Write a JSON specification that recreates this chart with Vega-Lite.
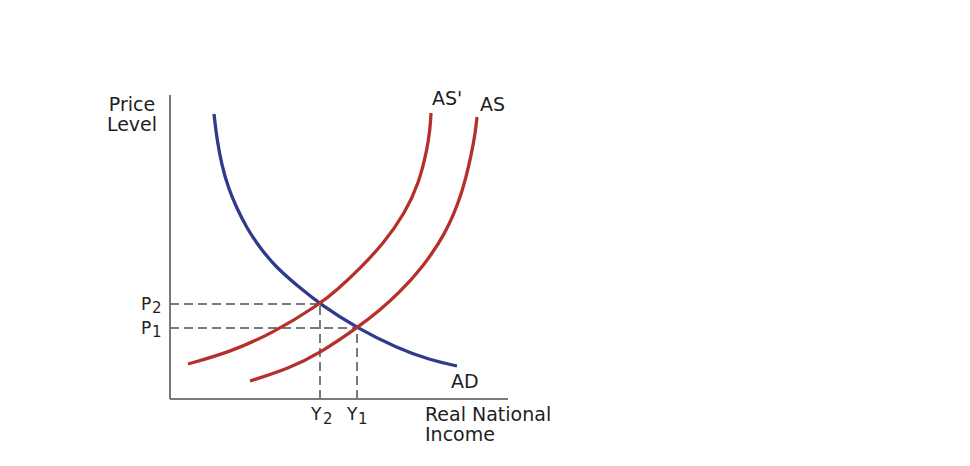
{
  "$schema": "https://vega.github.io/schema/vega-lite/v6.json",
  "autosize": "none",
  "width": 338,
  "height": 304,
  "padding": {"left": 170, "top": 95, "right": 462, "bottom": 67},
  "background": "white",
  "config": {"view": {"stroke": null}},
  "datasets": {
    "curves": [
      {"series": "AD", "x": 44, "y": 285},
      {"series": "AD", "x": 46.7, "y": 261},
      {"series": "AD", "x": 51.7, "y": 234},
      {"series": "AD", "x": 58.3, "y": 211},
      {"series": "AD", "x": 66.7, "y": 191},
      {"series": "AD", "x": 76.7, "y": 171},
      {"series": "AD", "x": 90, "y": 151},
      {"series": "AD", "x": 106.7, "y": 131},
      {"series": "AD", "x": 130, "y": 111},
      {"series": "AD", "x": 150, "y": 95},
      {"series": "AD", "x": 187, "y": 71},
      {"series": "AD", "x": 227, "y": 51},
      {"series": "AD", "x": 260, "y": 39},
      {"series": "AD", "x": 287, "y": 33},
      {"series": "AS'", "x": 18, "y": 35},
      {"series": "AS'", "x": 60, "y": 47},
      {"series": "AS'", "x": 103, "y": 66},
      {"series": "AS'", "x": 150, "y": 95},
      {"series": "AS'", "x": 167, "y": 109},
      {"series": "AS'", "x": 190, "y": 130.5},
      {"series": "AS'", "x": 214, "y": 156},
      {"series": "AS'", "x": 235, "y": 186},
      {"series": "AS'", "x": 249, "y": 216},
      {"series": "AS'", "x": 257, "y": 249},
      {"series": "AS'", "x": 260, "y": 269},
      {"series": "AS'", "x": 261, "y": 286},
      {"series": "AS", "x": 80, "y": 18},
      {"series": "AS", "x": 120, "y": 31},
      {"series": "AS", "x": 150, "y": 46},
      {"series": "AS", "x": 187, "y": 71},
      {"series": "AS", "x": 210, "y": 89},
      {"series": "AS", "x": 229, "y": 106},
      {"series": "AS", "x": 252, "y": 131},
      {"series": "AS", "x": 275, "y": 164},
      {"series": "AS", "x": 292, "y": 204},
      {"series": "AS", "x": 302, "y": 247},
      {"series": "AS", "x": 305.5, "y": 268},
      {"series": "AS", "x": 307, "y": 282}
    ],
    "axes": [
      {"x": 0, "x2": 0, "y": 0, "y2": 304},
      {"x": 0, "x2": 338, "y": 0, "y2": 0}
    ],
    "guides": [
      {"x": 0, "x2": 150, "y": 95, "y2": 95},
      {"x": 150, "x2": 150, "y": 0, "y2": 95},
      {"x": 0, "x2": 187, "y": 71, "y2": 71},
      {"x": 187, "x2": 187, "y": 0, "y2": 71}
    ],
    "bigLabels": [
      {"label": "AS'", "x": 262, "y": 294},
      {"label": "AS", "x": 310, "y": 288},
      {"label": "AD", "x": 281, "y": 11},
      {"label": "Real National", "x": 255, "y": -22},
      {"label": "Income", "x": 255, "y": -42}
    ],
    "yTitle": [
      {"label": "Price", "x": -38, "y": 288},
      {"label": "Level", "x": -38, "y": 268}
    ],
    "mainLetters": [
      {"label": "P", "x": -29, "y": 89},
      {"label": "P", "x": -29, "y": 65},
      {"label": "Y", "x": 141, "y": -21},
      {"label": "Y", "x": 177, "y": -21}
    ],
    "subs": [
      {"label": "2", "x": -18, "y": 86},
      {"label": "1", "x": -18, "y": 62},
      {"label": "2", "x": 153, "y": -25},
      {"label": "1", "x": 188, "y": -25}
    ]
  },
  "layer": [
    {
      "data": {"name": "axes"},
      "mark": {"type": "rule", "stroke": "#7a7a7a", "strokeWidth": 2},
      "encoding": {
        "x": {"field": "x", "type": "quantitative", "scale": {"domain": [0, 338], "nice": false, "zero": false}, "axis": null},
        "x2": {"field": "x2"},
        "y": {"field": "y", "type": "quantitative", "scale": {"domain": [0, 304], "nice": false, "zero": false}, "axis": null},
        "y2": {"field": "y2"}
      }
    },
    {
      "data": {"name": "guides"},
      "mark": {"type": "rule", "stroke": "#7a7a7a", "strokeWidth": 2, "strokeDash": [9, 5]},
      "encoding": {
        "x": {"field": "x", "type": "quantitative"},
        "x2": {"field": "x2"},
        "y": {"field": "y", "type": "quantitative"},
        "y2": {"field": "y2"}
      }
    },
    {
      "data": {"name": "curves"},
      "mark": {"type": "line", "interpolate": "basis", "strokeWidth": 3.3, "strokeCap": "butt"},
      "encoding": {
        "x": {"field": "x", "type": "quantitative"},
        "y": {"field": "y", "type": "quantitative"},
        "color": {"field": "series", "type": "nominal", "scale": {"domain": ["AD", "AS'", "AS"], "range": ["#2f3a8c", "#b5302b", "#b5302b"]}, "legend": null}
      }
    },
    {
      "data": {"name": "bigLabels"},
      "mark": {"type": "text", "align": "left", "baseline": "alphabetic", "font": "DejaVu Sans", "fontSize": 19, "color": "#1e1e1e"},
      "encoding": {
        "x": {"field": "x", "type": "quantitative"},
        "y": {"field": "y", "type": "quantitative"},
        "text": {"field": "label"}
      }
    },
    {
      "data": {"name": "yTitle"},
      "mark": {"type": "text", "align": "center", "baseline": "alphabetic", "font": "DejaVu Sans", "fontSize": 19, "color": "#1e1e1e"},
      "encoding": {
        "x": {"field": "x", "type": "quantitative"},
        "y": {"field": "y", "type": "quantitative"},
        "text": {"field": "label"}
      }
    },
    {
      "data": {"name": "mainLetters"},
      "mark": {"type": "text", "align": "left", "baseline": "alphabetic", "font": "DejaVu Sans", "fontSize": 17, "color": "#1e1e1e"},
      "encoding": {
        "x": {"field": "x", "type": "quantitative"},
        "y": {"field": "y", "type": "quantitative"},
        "text": {"field": "label"}
      }
    },
    {
      "data": {"name": "subs"},
      "mark": {"type": "text", "align": "left", "baseline": "alphabetic", "font": "DejaVu Sans", "fontSize": 15, "color": "#1e1e1e"},
      "encoding": {
        "x": {"field": "x", "type": "quantitative"},
        "y": {"field": "y", "type": "quantitative"},
        "text": {"field": "label"}
      }
    }
  ]
}
